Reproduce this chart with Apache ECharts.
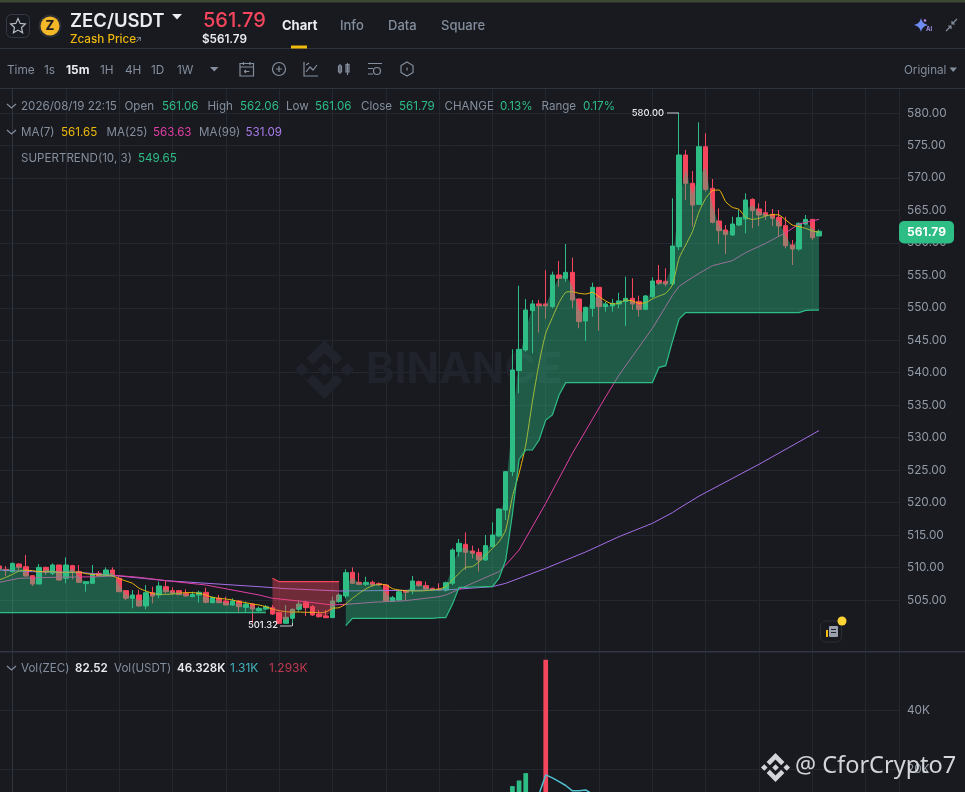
<!DOCTYPE html>
<html>
<head>
<meta charset="utf-8">
<style>html,body{margin:0;padding:0;background:#181a20;overflow:hidden}#c{width:965px;height:792px}</style>
<script src="https://cdn.jsdelivr.net/npm/echarts@6/dist/echarts.min.js"></script>
</head>
<body>
<div id="c"></div>
<script>
// ---------- data ----------
const firstBar = -2; // x value of the first visible candle (one unit = one 15m bar)
// open, close, low, high
const candles = [
[510.24,509.72,509.5,510.4],[509.72,509.52,508.7,510.24],[509.36,510.65,509.26,510.75],[510.54,510.03,509.62,510.65],
[510.13,508.7,508.59,511.93],[508.75,507.46,507.16,508.85],[507.46,510.03,507.46,510.54],[510.03,509.26,508.85,510.13],
[509.11,510.39,508.85,510.65],[510.39,508.08,507.98,510.39],[508.34,510.39,507.57,511.57],[510.29,509.36,508.18,510.4],
[509.36,507.72,507.67,510.39],[507.52,507.82,506.28,507.93],[507.57,508.95,507.57,510.39],[509.11,508.7,508.59,509.47],
[508.75,509.62,508.7,510.03],[509.62,508.7,508.59,510.03],[508.34,506.28,506.28,508.85],[506.44,505.26,505.0,506.54],
[505.26,505.77,503.72,506.54],[505.77,504.08,503.97,506.54],[504.08,506.13,503.56,507.31],[506.13,505.62,504.49,507.05],
[505.77,507.16,505.26,507.82],[507.05,506.28,506.03,507.98],[506.44,506.03,505.77,506.95],[506.44,505.82,505.77,506.54],
[506.03,505.62,505.51,506.64],[505.51,505.87,505.51,506.28],[505.77,506.18,504.59,506.44],[506.18,504.64,504.49,506.9],
[504.59,505.41,504.49,505.51],[505.26,504.59,504.49,505.77],[504.85,504.23,504.23,505.51],[504.23,504.85,504.13,505.26],
[504.85,503.97,503.2,505.0],[503.87,504.38,503.05,504.74],[504.38,503.61,501.41,504.49],[503.36,503.72,503.2,503.97],
[503.61,503.97,503.46,504.23],[503.82,502.84,502.69,504.23],[503.05,501.41,501.35,503.2],[501.41,502.33,501.35,504.23],
[502.18,503.56,501.32,503.72],[503.56,504.38,503.2,505.0],[504.59,503.82,502.54,504.9],[503.97,502.69,502.54,504.23],
[502.84,502.43,502.28,503.46],[502.54,502.28,502.28,503.46],[502.28,504.85,502.28,505.51],[504.74,505.77,504.59,506.03],
[505.62,509.21,505.26,509.72],[509.26,507.57,507.46,510.03],[507.72,507.41,507.31,509.21],[507.41,507.72,507.16,508.59],
[507.72,507.31,507.05,507.98],[507.52,507.31,507.21,507.72],[507.31,504.85,504.74,507.31],[504.85,505.36,504.74,505.62],
[505.0,506.28,504.9,506.54],[506.39,506.18,505.0,506.54],[506.54,507.93,505.87,508.7],[507.82,507.21,507.05,507.98],
[507.21,506.69,506.54,507.82],[506.8,506.54,506.54,506.9],[506.69,506.54,506.44,507.57],[506.54,507.67,506.28,507.82],
[507.57,512.7,507.31,512.96],[512.45,513.73,511.68,514.4],[513.58,512.34,509.62,515.42],[512.55,512.19,511.42,513.37],
[512.34,511.16,509.37,512.96],[511.16,513.37,511.06,515.01],[513.22,515.01,513.11,516.96],[514.86,519.02,514.76,519.12],
[518.86,524.77,517.32,524.87],[524.77,540.42,524.1,543.6],[540.32,543.6,536.83,553.4],[543.5,549.66,543.25,551.35],
[549.55,550.6,543.0,551.2],[550.6,550.3,546.2,551.2],[550.6,550.3,548.3,555.8],[550.18,555.05,549.92,555.57],
[555.05,554.54,553.26,557.21],[554.54,555.46,554.03,559.83],[555.46,551.2,549.92,557.72],[551.36,547.87,546.84,551.36],
[547.97,550.07,544.9,550.18],[549.92,553.15,548.64,553.87],[553.15,550.18,546.48,553.15],[550.18,550.59,549.41,550.95],
[550.28,550.69,549.41,551.36],[550.59,551.05,549.92,552.33],[550.95,551.46,547.2,554.8],[551.46,550.59,549.66,554.54],
[550.95,549.76,548.64,551.87],[549.76,551.82,549.66,551.97],[551.72,554.13,551.46,554.69],[554.23,553.77,553.51,556.59],
[554.08,553.67,553.3,556.08],[553.67,559.52,553.51,566.86],[559.41,573.53,558.9,580.0],[573.53,569.17,566.6,574.3],
[569.17,565.83,562.49,571.07],[565.93,574.81,565.83,578.56],[574.81,568.24,567.88,576.87],[568.4,563.16,563.01,569.83],
[563.37,561.88,559.83,565.32],[561.98,561.31,558.29,562.75],[561.21,562.9,561.06,564.03],[562.75,563.88,562.6,565.06],
[563.68,566.6,561.47,567.63],[566.7,564.96,562.24,566.86],[565.22,564.29,562.6,566.09],[564.65,564.19,563.52,566.45],
[564.39,563.78,562.6,565.22],[563.93,562.6,561.06,565.06],[562.65,559.57,559.16,564.03],[559.67,559.06,556.59,560.44],
[559.06,563.01,558.8,563.16],[562.9,563.62,562.75,564.29],[563.62,560.8,560.44,563.62],[561.06,561.79,561.06,562.06]
];
const ma7 = [
508.08,508.49,508.95,509.47,509.57,509.52,509.36,509.36,509.36,509.26,509.26,509.26,509.31,509.06,508.95,508.85,508.85,508.7,508.29,507.93,
507.57,506.8,506.39,506.03,505.87,505.87,505.92,506.03,506.13,506.13,506.03,505.77,505.41,505.26,505.15,505.0,504.74,504.59,504.38,504.23,
503.97,503.61,503.36,503.2,503.15,503.15,503.1,503.1,503.05,503.15,503.72,503.82,504.38,505.26,506.03,506.69,507.21,507.41,507.36,506.75,
506.54,506.44,506.39,506.39,506.44,506.54,506.69,507.06,508.08,509.11,510.03,510.14,510.9,511.93,512.96,513.99,515.78,520.92,524.51,528.87,
535.54,541.45,546.07,548.5,550.8,552.38,552.48,552.23,552.13,552.38,551.72,551.05,550.59,550.69,551.2,551.05,550.69,550.79,551.36,551.82,
552.23,553.51,557.62,559.67,561.72,564.8,566.86,568.04,568.14,566.34,565.47,565.16,563.93,563.62,563.78,564.14,564.34,564.29,563.52,562.75,
562.49,562.24,561.83,561.65
];
// [bar, value] readings along the two slow averages
const ma25 = [[-2,507.72],[1,508.34],[6,508.49],[13,508.59],[16,508.75],[19,508.49],[23,507.98],[29,507.31],[37,505.77],[39,505.26],[44,504.74],[48,504.23],[50,504.33],[54,504.64],[59,504.9],[64,505.51],[65,505.77],[69,507.57],[73,509.37],[74,510.39],[76,512.7],[80,519.89],[84,527.59],[89,536.31],[91,539.65],[96,546.84],[99,551.9],[100,553.3],[101,554.0],[103,555.3],[105,556.48],[108,557.26],[110,558.5],[113,559.93],[116,561.57],[118,562.9],[121,563.63]];
const ma99 = [[-2,509.62],[3,509.36],[10,509.26],[16,508.7],[23,507.98],[37,507.05],[41,506.75],[49,506.39],[65,506.54],[72,507.06],[74,507.57],[80,509.88],[86,512.4],[91,514.76],[96,516.81],[99,518.45],[100,519.12],[103,521.0],[112,525.9],[121,531.09]];
// supertrend line, one run per trend: [first bar, values]
const trendUpOld = [-2, [503.05,503.05,503.05,503.05,503.05,503.05,503.05,503.05,503.05,503.05,503.05,503.05,503.05,503.05,503.05,503.05,503.05,503.05,503.05,503.05,503.05,503.05,503.05,503.05,503.05,503.05,503.05,503.05,503.05,503.05,503.05,503.05,503.05,503.05,503.05,503.05,503.05,503.05,503.05,503.05,503.05]];
const trendDown = [39, [508.34,507.82,507.82,507.82,507.82,507.82,507.82,507.82,507.82,507.82,507.82]];
const trendUp = [50, [501.05,502.18,502.18,502.18,502.18,502.18,502.18,502.18,502.18,502.18,502.18,502.18,502.18,502.18,502.28,502.28,504.33,506.95,506.95,507.0,507.0,507.05,507.05,508.34,511.16,518.2,526.66,528.1,528.1,529.64,532.72,533.49,536.57,538.47,538.47,538.47,538.47,538.47,538.47,538.47,538.47,538.47,538.47,538.47,538.47,538.47,538.47,540.83,541.09,544.78,548.27,549.25,549.25,549.25,549.25,549.25,549.25,549.25,549.25,549.25,549.25,549.25,549.25,549.25,549.25,549.25,549.25,549.25,549.25,549.61,549.65,549.65]];
// volume: bars tall enough to be seen in the window, and its average line
const volumeBars = [[75,14200,1],[76,16100,1],[77,18600,1],[80,57000,-1]];
const volumeAvg = [[79,11500],[80,18000],[81,17000],[82,15700],[83,14400],[84,12600],[85,12600],[86,12900],[87,11500]];
const priceTicks = [505,510,515,520,525,530,535,540,545,550,555,560,565,570,575,580];
const timeframes = ['Time','1s','15m','1H','4H','1D','1W'];
const tabs = ['Chart','Info','Data','Square'];

// ---------- styling ----------
const BG='#181a20', GREEN='#2ebd85', RED='#f6465d', GRID='#23272f', LINE='#2e343e', MUTED='#848e9c', TXT='#eaecef', GOLD='#f0b90b';
const FONT='Inter, "Noto Sans", sans-serif';
const X_MAX=133, DATA_X_MIN=-1.875;

const candleRows = candles.map((c,i)=>[i+firstBar,c[0],c[1],c[2],c[3]]);
const bodyMid = bar => { const c=candles[bar-firstBar]; return (c[0]+c[1])/2; };
const runs = [[trendUpOld,GREEN,'rgba(46,189,133,0.4)'],[trendDown,RED,'rgba(246,70,93,0.4)'],[trendUp,GREEN,'rgba(46,189,133,0.4)']];

const dataX = i => ({type:'value',gridIndex:i,min:DATA_X_MIN,max:X_MAX,show:false});

// svg-path shapes are registered one by one for the graphic component
let shapeCount=0;
const shapeOf=d=>{const n='sp'+(shapeCount++);echarts.graphic.registerShape(n,echarts.graphic.extendPath(d,{}));return n;};

const t=(x,y,text,fill,size,weight,align)=>({type:'text',x,y:y+0.8,z:20,silent:true,style:{text,fill:fill||MUTED,font:(weight||400)+' '+(size||11.6)+'px '+FONT,textAlign:align||'left',textVerticalAlign:'middle'}});
const rect=(x,y,w,h,fill,r,stroke)=>({type:'rect',z:20,silent:true,shape:{x,y,width:w,height:h,r:r||0},style:{fill:fill||'none',stroke:stroke||null,lineWidth:1}});
const icon=(x,y,d,stroke,fill,lw)=>({type:shapeOf(d),x,y,z:20,silent:true,style:{fill:fill||'none',stroke:stroke===undefined?MUTED:stroke,lineWidth:lw||1.2}});
const BINANCE='M38.73 53.2l24.59-24.58 24.6 24.6 14.3-14.31L63.32 0 24.42 38.9l14.31 14.3zM0 63.31l14.3-14.31 14.31 14.31-14.31 14.3zM38.73 73.41l24.59 24.59 24.6-24.6 14.31 14.29-38.9 38.91-38.91-38.88v-.03zM98 63.31l14.3-14.31 14.31 14.3-14.31 14.32zM77.83 63.3L63.32 48.78 52.59 59.51l-1.24 1.23-2.54 2.54 14.51 14.5 14.51-14.47z';
const logo=(x,y,s,fill,z)=>({type:shapeOf(BINANCE),x,y,scaleX:s/126.61,scaleY:s/126.61,z:z,silent:true,style:{fill}});

const tfX=[7,44,66,100,125,151,177];
const tabX=[282,340,388,441];
const graphics=[
  // faint watermark behind the chart
  logo(295,340,59,'#20232b',1),
  {type:'text',x:366,y:370,z:1,silent:true,style:{text:'BINANCE',fill:'#20232b',font:'700 43px '+FONT,textAlign:'left',textVerticalAlign:'middle'}},
  // frame
  rect(0,0,965,2.5,'#3c4a33'),
  rect(0,48,965,1,LINE), rect(0,88,965,1,LINE), rect(0,651,965,1.5,'#30353f'),
  // header
  rect(6.5,14.5,23,23,null,5,'#333a45'),
  icon(18,26,'M0-7.5L2.2-2.6 7.4-2 3.5 1.5 4.6 6.8 0 4.1-4.6 6.8-3.5 1.5-7.4-2-2.2-2.6Z','#b7bdc6'),
  {type:'circle',z:20,silent:true,shape:{cx:50,cy:26,r:11.5},style:{fill:'#2a2d34'}},
  {type:'circle',z:20,silent:true,shape:{cx:50,cy:26,r:9.5},style:{fill:'#f4b728'}},
  t(50,25.7,'Z','#231f20',13,800,'center'),
  t(70,20.5,'ZEC/USDT',TXT,18.5,600),
  icon(172,14,'M0 0H10L5 5.5Z',null,TXT),
  t(70,38.5,'Zcash Price',GOLD,11.7,500),
  t(135,38.5,'↗',MUTED,9),
  t(203,20.5,'561.79',RED,20,500),
  t(202,38.5,'$561.79',TXT,11.7,600),
  t(tabX[0],25.2,tabs[0],TXT,13,700), t(tabX[1],25.2,tabs[1],MUTED,13,500), t(tabX[2],25.2,tabs[2],MUTED,13,500), t(tabX[3],25.2,tabs[3],MUTED,13,500),
  rect(291,45.5,16,3,'#f0b90b'),
  icon(921,25,'M-7 0C-3 -1-1-3 0-7 1-3 3-1 7 0 3 1 1 3 0 7-1 3-3 1-7 0Z',null,'#6f8cf5'),
  {type:'circle',z:20,silent:true,shape:{cx:925,cy:20.5,r:1.3},style:{fill:'#b98ce8'}},
  t(926,28,'AI','#a08ce8',6,700),
  icon(947,21,'M10-2L5 3M5 0V3H8M-1 10L4 5M4 8V5H1',MUTED),
  // toolbar
  ...timeframes.map((s,i)=>t(tfX[i],69.5,s,i===2?TXT:MUTED,11.8,i===2?700:400)),
  icon(210,67,'M0 0H8.5L4.2 4.5Z',null,MUTED),
  icon(240,62,'M0 1.5H13.5V14H0ZM0 5H13.5M3.5 0V3M10 0V3M9.5 9.5H4.5M6 8L4.5 9.5 6 11'),
  {type:'circle',z:20,silent:true,shape:{cx:279,cy:69,r:6.5},style:{fill:'none',stroke:MUTED,lineWidth:1.2}},
  icon(279,69,'M-3 0H3M0-3V3'),
  icon(304,62,'M0 0V14H14M2 10L6 5 9 8 13 3M2 3L5 1'),
  icon(336,63,'M2.5 3H5.5V9H2.5ZM4 1V11M10 1.5H13V9H10ZM11.5 0V12'),
  icon(368,63,'M0 0.5H14M0 5.5H5M0 11H5'),
  {type:'circle',z:20,silent:true,shape:{cx:377,cy:71,r:3.5},style:{fill:'none',stroke:MUTED,lineWidth:1.2}},
  icon(407,69,'M0-7L6-3.5V3.5L0 7-6 3.5V-3.5ZM0-1.5V1.5'),
  t(904,69.5,'Original',MUTED,11.6),
  icon(949.5,67.5,'M0 0H7.5L3.7 4.5Z',null,MUTED),
  // legends
  icon(7,104,'M0 0L4.5 4 9 0'),
  t(21,105.5,'2026/08/19 22:15'), t(124.5,105.5,'Open'), t(162,105.5,'561.06',GREEN), t(207.5,105.5,'High'), t(240,105.5,'562.06',GREEN),
  t(286,105.5,'Low'), t(315,105.5,'561.06',GREEN), t(361,105.5,'Close'), t(399,105.5,'561.79',GREEN), t(444.5,105.5,'CHANGE'), t(500,105.5,'0.13%',GREEN),
  t(541.5,105.5,'Range'), t(583,105.5,'0.17%',GREEN),
  icon(7,130,'M0 0L4.5 4 9 0'),
  t(21,131.5,'MA(7)'), t(61,131.5,'561.65',GOLD), t(106.5,131.5,'MA(25)'), t(153,131.5,'563.63','#e13fa5'), t(199,131.5,'MA(99)'), t(245.5,131.5,'531.09','#a97be8'),
  t(21,157.5,'SUPERTREND(10, 3)'), t(138,157.5,'549.65',GREEN),
  icon(7,666,'M0 0L4.5 4 9 0'),
  t(21,667.5,'Vol(ZEC)'), t(75,667.5,'82.52',TXT,11.6,600), t(114,667.5,'Vol(USDT)'), t(177,667.5,'46.328K',TXT,11.6,600), t(230,667.5,'1.31K','#44b3bd',12), t(269,667.5,'1.293K','#c23a50',12),
  // extreme labels
  t(664,112.5,'580.00',TXT,9.4,500,'right'), rect(667,112.5,12,1,'#c8ccd2'),
  t(278,624.5,'501.32',TXT,9.4,500,'right'), rect(280,625.5,12,1,'#c8ccd2'), rect(292,623,1,3,'#c8ccd2'),
  // current price tag
  rect(899,221,55,22.5,GREEN,5),
  t(926.5,231.5,'561.79','#ffffff',12,700,'center'),
  // notes button
  rect(820.5,621,21,21,BG,5,'#2a2e36'),
  rect(829,626,9,11,'#9aa1ac',1), rect(826,630,2,7,GOLD),
  rect(831,629,5,1,'#23262d'), rect(831,632,5,1,'#23262d'),
  {type:'circle',z:20,silent:true,shape:{cx:842,cy:621,r:4.5},style:{fill:'#fcd535'}},
  // corner watermark
  logo(761,753,29,'#d3d5d8',30),
  {type:'text',x:795,y:766,z:30,silent:true,style:{text:'@ CforCrypto7',fill:'#d3d5d8',font:'400 23.5px "Noto Sans", sans-serif',textAlign:'left',textVerticalAlign:'middle'}}
];

const option={
  backgroundColor:BG, animation:false,
  textStyle:{fontFamily:FONT},
  grid:[
    {left:12.5,width:886.5,top:89,height:703},  // vertical rules + price axis line
    {left:0,width:899,top:113,height:487},      // price pane, 505 to 580
    {left:0,width:899,top:651,height:118},      // volume rules and labels, 20K to 60K
    {left:0,width:899,top:651,height:141}       // volume marks, 12.2K to 60K
  ],
  xAxis:[
    {type:'value',gridIndex:0,min:0,max:X_MAX,interval:8,axisLine:{show:false},axisTick:{show:false},axisLabel:{show:false},splitLine:{show:true,lineStyle:{color:GRID,width:1}}},
    dataX(1),dataX(2),dataX(3)
  ],
  yAxis:[
    {type:'value',gridIndex:0,position:'right',min:0,max:1,axisLine:{show:true,lineStyle:{color:LINE}},axisTick:{show:false},axisLabel:{show:false},splitLine:{show:false}},
    {type:'value',gridIndex:1,position:'right',min:priceTicks[0],max:priceTicks[priceTicks.length-1],interval:5,
      axisLine:{show:false},axisTick:{show:false},
      axisLabel:{color:'#929aa5',fontSize:11.8,fontFamily:FONT,margin:8,padding:[1,0,0,0],formatter:v=>v.toFixed(2)},
      splitLine:{show:true,lineStyle:{color:GRID}}},
    {type:'value',gridIndex:2,position:'right',min:20000,max:60000,interval:20000,
      axisLine:{show:false},axisTick:{show:false},
      axisLabel:{color:'#929aa5',fontSize:11.8,fontFamily:FONT,margin:8,formatter:v=>(v===20000||v===40000)?(v/1000)+'K':''},
      splitLine:{show:true,lineStyle:{color:GRID}}},
    {type:'value',gridIndex:3,position:'right',min:12200,max:60000,show:false}
  ],
  series:[
    {type:'candlestick',name:'ZEC/USDT',xAxisIndex:1,yAxisIndex:1,z:3,clip:false,barWidth:5,encode:{x:0,y:[1,2,3,4]},
      itemStyle:{color:GREEN,color0:RED,borderColor:GREEN,borderColor0:RED,borderWidth:1},data:candleRows},
    {type:'line',name:'MA(99)',xAxisIndex:1,yAxisIndex:1,z:4,clip:false,showSymbol:false,lineStyle:{color:'#a56ee6',width:1},data:ma99},
    {type:'line',name:'MA(25)',xAxisIndex:1,yAxisIndex:1,z:4,clip:false,showSymbol:false,lineStyle:{color:'#e03fa3',width:1},data:ma25},
    {type:'line',name:'MA(7)',xAxisIndex:1,yAxisIndex:1,z:4,clip:false,showSymbol:false,smooth:0.2,lineStyle:{color:GOLD,width:1},data:ma7.map((v,i)=>[i+firstBar,v])},
    {type:'custom',name:'SUPERTREND(10, 3)',xAxisIndex:1,yAxisIndex:1,z:5,silent:true,clip:false,
      data:runs.map((r,i)=>[r[0][0],r[0][1][0],i]),encode:{x:0,y:1},
      renderItem:(params,api)=>{
        const r=runs[params.dataIndex], start=r[0][0], vals=r[0][1];
        const line=vals.map((v,i)=>api.coord([start+i,v]));
        const mids=vals.map((v,i)=>api.coord([start+i,bodyMid(start+i)]));
        return {type:'group',children:[
          {type:'polygon',shape:{points:line.concat(mids.reverse())},style:{fill:r[2]}},
          {type:'polyline',shape:{points:line},style:{fill:'none',stroke:r[1],lineWidth:1.2}}
        ]};
      }},
    {type:'bar',name:'Volume',xAxisIndex:3,yAxisIndex:3,z:3,barWidth:4.7,
      data:volumeBars.map(b=>({value:[b[0],b[1]],itemStyle:{color:b[2]>0?GREEN:RED}}))},
    {type:'line',name:'Volume MA',xAxisIndex:3,yAxisIndex:3,z:4,showSymbol:false,clip:true,lineStyle:{color:'#4fc0d0',width:1.5},data:volumeAvg}
  ],
  graphic:{elements:graphics}
};
const chart=echarts.init(document.getElementById('c'),null,{width:965,height:792,renderer:'canvas'});
chart.setOption(option);
</script>
</body>
</html>
